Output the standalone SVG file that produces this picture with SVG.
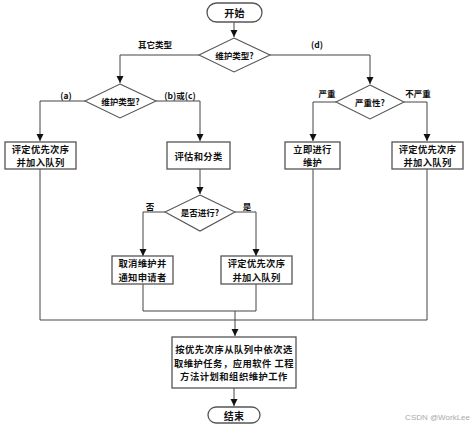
<svg xmlns="http://www.w3.org/2000/svg" width="474" height="428" viewBox="0 0 474 428">
<defs>
<marker id="ah" markerWidth="7" markerHeight="8" refX="7" refY="4" orient="auto" markerUnits="userSpaceOnUse">
<path d="M0,0.5 L7,4 L0,7.5 Z" fill="#111"/>
</marker>
<style>
.box{fill:#fff;stroke:#555;stroke-width:1.3}
.dia{fill:#fff;stroke:#555;stroke-width:1.1}
.ln{fill:none;stroke:#444;stroke-width:1}
.t{font-family:"Noto Sans CJK SC","Liberation Sans",sans-serif;font-weight:bold;font-size:9.3px;letter-spacing:0.3px;fill:#111;text-anchor:middle;dominant-baseline:central}
.s{font-size:8.5px;letter-spacing:0}
.lb{font-family:"Noto Sans CJK SC","Liberation Sans",sans-serif;font-weight:bold;font-size:8.5px;fill:#111;text-anchor:middle;dominant-baseline:central}
</style>
</defs>
<rect width="474" height="428" fill="#fff"/>
<g id="connectors">
<path class="ln" d="M234,22 V37" marker-end="url(#ah)"/>
<path class="ln" d="M199,55 H120 V83" marker-end="url(#ah)"/>
<path class="ln" d="M270,55 H370 V84" marker-end="url(#ah)"/>
<path class="ln" d="M85,101 H40 V141" marker-end="url(#ah)"/>
<path class="ln" d="M156,101 H200 V141" marker-end="url(#ah)"/>
<path class="ln" d="M336,102 H313 V141" marker-end="url(#ah)"/>
<path class="ln" d="M404,102 H427 V141" marker-end="url(#ah)"/>
<path class="ln" d="M200,168 V194" marker-end="url(#ah)"/>
<path class="ln" d="M165,212 H143 V256" marker-end="url(#ah)"/>
<path class="ln" d="M235,212 H256 V256" marker-end="url(#ah)"/>
<path class="ln" d="M40,168 V320 H427 V168"/>
<path class="ln" d="M313,168 V320"/>
<path class="ln" d="M143,283 V311 H256 V283"/>
<path class="ln" d="M235,311 V336" marker-end="url(#ah)"/>
<path class="ln" d="M234,388 V406" marker-end="url(#ah)"/>
<text class="lb" x="155" y="44">其它类型</text>
<text class="lb" x="317" y="44">(d)</text>
<text class="lb" x="66" y="95">(a)</text>
<text class="lb" x="180" y="95">(b)或(c)</text>
<text class="lb" x="327" y="93">严重</text>
<text class="lb" x="418" y="93">不严重</text>
<text class="lb" x="150" y="206">否</text>
<text class="lb" x="247" y="206">是</text>
</g>
<g id="start">
<rect class="box" x="207" y="3" width="55" height="19" rx="9.5"/>
<text class="t" x="234.5" y="12.5" style="font-size:10px">开始</text>
</g>
<g id="d1">
<polygon class="dia" points="234,38 270,55 234,72 199,55"/>
<text class="t s" x="234.5" y="55">维护类型?</text>
</g>
<g id="d2">
<polygon class="dia" points="120,84 156,101 120,118 85,101"/>
<text class="t s" x="120.5" y="101">维护类型?</text>
</g>
<g id="d3">
<polygon class="dia" points="370,85 404,102 370,119 336,102"/>
<text class="t s" x="370" y="102">严重性?</text>
</g>
<g id="b1">
<rect class="box" x="5" y="142" width="71" height="27"/>
<text class="t" x="40.5" y="148.5">评定优先次序</text>
<text class="t" x="40.5" y="162">并加入队列</text>
</g>
<g id="b2">
<rect class="box" x="167" y="142" width="63" height="27"/>
<text class="t" x="198.5" y="155.5">评估和分类</text>
</g>
<g id="b3">
<rect class="box" x="285" y="142" width="55" height="27"/>
<text class="t" x="312.5" y="148.5">立即进行</text>
<text class="t" x="312.5" y="162">维护</text>
</g>
<g id="b4">
<rect class="box" x="392" y="142" width="71" height="27"/>
<text class="t" x="427.5" y="148.5">评定优先次序</text>
<text class="t" x="427.5" y="162">并加入队列</text>
</g>
<g id="d4">
<polygon class="dia" points="200,195 235,212 200,231 165,212"/>
<text class="t s" x="200" y="212">是否进行?</text>
</g>
<g id="b5">
<rect class="box" x="112" y="256" width="61" height="28"/>
<text class="t" x="142.5" y="263.2">取消维护并</text>
<text class="t" x="142.5" y="276.8">通知申请者</text>
</g>
<g id="b6">
<rect class="box" x="221" y="256" width="71" height="28"/>
<text class="t" x="256.5" y="263.2">评定优先次序</text>
<text class="t" x="256.5" y="276.8">并加入队列</text>
</g>
<g id="b7">
<rect class="box" x="172" y="337" width="124" height="51"/>
<text class="t" x="234" y="349" style="letter-spacing:0.5px">按优先次序从队列中依次选</text>
<text class="t" x="234" y="362.5" style="letter-spacing:0.5px">取维护任务，应用软件 工程</text>
<text class="t" x="234" y="376" style="letter-spacing:0.5px">方法计划和组织维护工作</text>
</g>
<g id="end">
<rect class="box" x="208" y="407" width="52" height="16" rx="8"/>
<text class="t" x="234" y="415" style="font-size:10px">结束</text>
</g>
<text x="470" y="420" font-family="Liberation Sans, sans-serif" font-size="8" fill="#aaa" text-anchor="end">CSDN @WorkLee</text>
</svg>
